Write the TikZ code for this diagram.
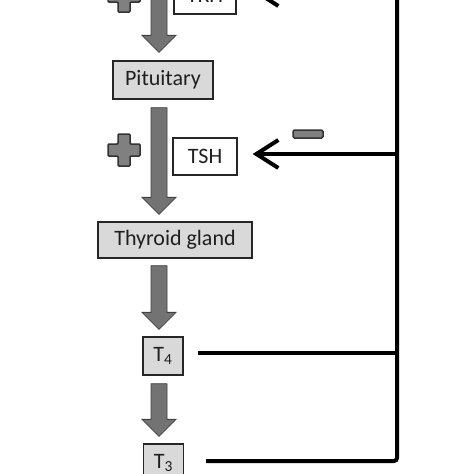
\documentclass[tikz,border=0pt]{standalone}
\usepackage{fontspec}
\setmainfont{Carlito}
\usetikzlibrary{calc,arrows.meta}
\newcommand\blockarrow[2]{%
  \draw[blockarr] let \p1=#1, \p2=#2 in
    (\x2-8pt,\y1) -- (\x2+8pt,\y1) -- (\x2+8pt,\y2+17pt) -- (\x2+17pt,\y2+17pt)
    -- (\x2,\y2) -- (\x2-17pt,\y2+17pt) -- (\x2-8pt,\y2+17pt) -- cycle;}
\begin{document}
\begin{tikzpicture}[x=1pt,y=-1pt,
  box/.style={draw=black!85, line width=1.3pt, inner sep=0pt, text=black!88,
    font=\fontsize{22}{24}\selectfont},
  greybox/.style={box, fill=black!15},
  whitebox/.style={box, fill=white},
  blockarr/.style={fill=black!55, draw=black!75, line width=0.8pt},
  fb/.style={line width=4pt, draw=black},
  fbtip/.style={-{Straight Barb[length=22pt,width=28pt]}},
  sign/.style={fill=black!50, draw=black!80, line width=1.5pt},
  plussign/.pic={\draw[sign, rounded corners=1pt] (-6,-16) -- (6,-16) -- (6,-6) -- (16,-6)
      -- (16,6) -- (6,6) -- (6,16) -- (-6,16) -- (-6,6) -- (-16,6) -- (-16,-6) -- (-6,-6) -- cycle;}]
\useasboundingbox (0,0) rectangle (474,474);
\clip (0,0) rectangle (474,474);
\fill[white] (0,0) rectangle (474,474);

% boxes
\node[whitebox, minimum width=62pt, minimum height=37pt] (trh) at (205,-4.5) {TRH};
\node[greybox, minimum width=100pt, minimum height=38pt] (pit) at (163,80) {Pituitary};
\node[whitebox, minimum width=64pt, minimum height=37pt] (tsh) at (205,156.5) {TSH};
\node[greybox, minimum width=154pt, minimum height=36pt] (thy) at (175,240) {Thyroid gland};
\node[greybox, minimum width=40pt, minimum height=38pt] (t4) at (163,356) {T\textsubscript{4}};
\node[greybox, minimum width=40pt, minimum height=38pt] (t3) at (163.5,463) {T\textsubscript{3}};

% block arrows
\coordinate (ax) at (159,0);
\coordinate (a0) at (159,-20);
\blockarrow{(a0)}{($(pit.north -| ax)+(0,-8)$)}
\blockarrow{($(pit.south -| ax)+(0,8)$)}{($(thy.north -| ax)+(0,-7)$)}
\blockarrow{($(thy.south -| ax)+(0,7)$)}{($(t4.north -| ax)+(0,-7)$)}
\blockarrow{($(t4.south -| ax)+(0,8)$)}{($(t3.north -| ax)+(0,-7)$)}

% signs
\pic at (124,-4) {plussign};
\pic at (124,150) {plussign};
\node[sign, rounded corners=1.5pt, minimum width=30pt, minimum height=8pt, inner sep=0pt] (minus) at (308,134) {};

% feedback
\coordinate (top) at (397,-30);
\coordinate (corner) at (397,461);
\coordinate (bus4) at (397,353);
\coordinate (bustsh) at (397,154);
\coordinate (bustrh) at (397,-8);
\draw[fb, rounded corners=3pt] (top) -- (corner) -- ($(t3.east)+(22,-2)$);
\draw[fb] ($(t4.east)+(14,-3)$) -- (bus4);
\draw[fb, fbtip] (bustsh) -- ($(tsh.east)+(15,-2.5)$);
\draw[fb, fbtip] (bustrh) -- ($(trh.east)+(16,-3.5)$);
\end{tikzpicture}
\end{document}
